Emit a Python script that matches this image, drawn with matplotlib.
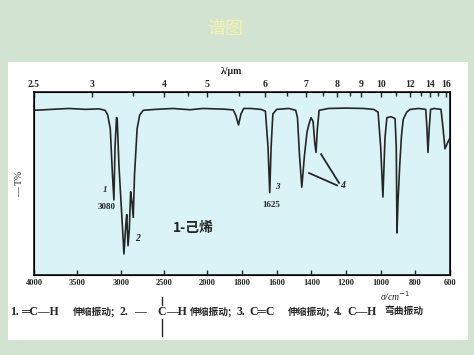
import numpy as np
import matplotlib
matplotlib.use('Agg')
import matplotlib.pyplot as plt
from matplotlib.patches import Rectangle
from matplotlib.lines import Line2D

# spectrum of 1-hexene (wavenumber cm-1, T%)
wavenumber = [4000, 3800, 3600, 3400, 3250, 3180, 3150, 3120, 3095, 3078, 3065, 3048,
              3040, 3020, 2990, 2962, 2940, 2930, 2915, 2900, 2885, 2870, 2855, 2840,
              2810, 2780, 2740, 2600, 2400, 2200, 2050, 1900, 1850, 1835, 1820, 1806,
              1790, 1750, 1690, 1665, 1650, 1640, 1632, 1622, 1600, 1530, 1490, 1480,
              1468, 1455, 1440, 1425, 1415, 1402, 1390, 1380, 1373, 1365, 1355, 1300,
              1200, 1100, 1040, 1015, 1000, 987, 975, 964, 940, 917, 910, 906, 900,
              890, 880, 870, 850, 830, 780, 740, 733, 727, 720, 712, 690, 652, 640,
              629, 615, 600]
transmittance = [90, 90.5, 91, 90.5, 90.8, 90, 87.5, 80, 55, 41, 70, 86,
                 85.5, 60, 35, 11.5, 28, 33, 16, 25, 45.5, 40, 31.5, 55,
                 80, 87.5, 90, 90.5, 91, 90.3, 91, 90.6, 90.2, 87, 82, 88,
                 91, 91, 90.5, 89.5, 70, 45, 70, 88, 90.5, 91, 90, 86,
                 65, 48, 65, 78, 82, 86, 84, 72, 67, 80, 90, 91,
                 91.2, 91, 90.5, 89, 70, 42.6, 75, 86, 86.5, 85.5, 70, 23, 40,
                 60, 76, 85, 89, 90.5, 91, 90.5, 80, 67, 80, 90.5, 91, 90.5, 80,
                 69, 72, 75]

sigma_ticks = [4000, 3500, 3000, 2500, 2000, 1800, 1600, 1400, 1200, 1000, 800, 600]
lambda_ticks = [2.5, 3, 4, 5, 6, 7, 8, 9, 10, 12, 14, 16]
lambda_minor = [3.5, 4.5, 5.5, 6.5, 7.5, 8.5, 11, 13, 15]

# caption pieces and where each one starts (pixels)
caption = [('1.', 10), ('═C—H', 21), ('伸缩振动;', 73), ('2.', 119), ('—', 134), ('C', 157),
           ('—H', 166), ('伸缩振动;', 190), ('3.', 237), ('C═C', 249), ('伸缩振动;', 288),
           ('4.', 334), ('C—H', 347), ('弯曲振动', 384)]

serif = ['Liberation Serif', 'Noto Sans CJK SC']
cjk = ['Noto Sans CJK SC', 'Liberation Serif']
ink = '#262626'


def fwd(w):
    w = np.asarray(w, float)
    return np.where(w >= 2000, w, 2 * w - 2000)


def inv(u):
    u = np.asarray(u, float)
    return np.where(u >= 2000, u, (u + 2000) / 2)


def px(x, y):
    return x / 474, 1 - y / 355


fig = plt.figure(figsize=(4.74, 3.55), dpi=100)
fig.patch.set_facecolor('#d3e3d1')
fig.patches.append(Rectangle(px(8, 340), 460 / 474, 278 / 355, transform=fig.transFigure,
                             facecolor='white', edgecolor='none', zorder=-10))
fig.text(*px(225, 29), '谱图', family=cjk, fontsize=13, color='#f3f3a8', ha='center', va='center')

ax = fig.add_axes([34 / 474, 1 - 275 / 355, 416 / 474, 183 / 355])
ax.set_facecolor('#daf3f6')
ax.set_xscale('function', functions=(fwd, inv))
ax.set_xlim(4000, 600)
ax.set_ylim(0, 100)
ax.plot(wavenumber, transmittance, color=ink, lw=1.2)
for s in ax.spines.values():
    s.set_color(ink)
    s.set_linewidth(1.3)
ax.set_yticks([])
ax.set_xticks(sigma_ticks)
ax.set_xticklabels([str(t) for t in sigma_ticks], family=serif, fontsize=6, fontweight='bold', color=ink)
ax.tick_params(axis='x', direction='in', length=3.5, width=1, pad=3, colors=ink)

top = ax.twiny()
top.set_xscale('function', functions=(fwd, inv))
top.set_xlim(4000, 600)
top.set_xticks([10000 / l for l in lambda_ticks])
top.set_xticklabels([str(l) for l in lambda_ticks], family=serif, fontsize=7, fontweight='bold', color=ink)
top.set_xticks([10000 / l for l in lambda_minor], minor=True)
top.tick_params(axis='x', which='both', direction='in', length=3.5, width=1, pad=2.5, colors=ink)
top.tick_params(axis='x', which='minor', length=3)

# peak labels
ax.text(3175, 46.5, '1', family=serif, fontsize=6.5, style='italic', fontweight='bold', ha='center', va='center', color=ink)
ax.text(3158, 37, '3080', family=serif, fontsize=6.5, fontweight='bold', ha='center', va='center', color=ink)
ax.text(2800, 20, '2', family=serif, fontsize=7, style='italic', fontweight='bold', ha='center', va='center', color=ink)
ax.text(2165, 25.7, '1-己烯', family=cjk, fontsize=10, fontweight='bold', ha='center', va='center', color=ink)
ax.text(1598, 48, '3', family=serif, fontsize=6.5, style='italic', fontweight='bold', ha='center', va='center', color=ink)
ax.text(1633, 38, '1625', family=serif, fontsize=6.5, fontweight='bold', ha='center', va='center', color=ink)
ax.text(1222, 49, '4', family=serif, fontsize=7, style='italic', fontweight='bold', ha='center', va='center', color=ink)
ax.plot([1344, 1240], [66, 50.3], color=ink, lw=1.3)
ax.plot([1413, 1252], [55.7, 49], color=ink, lw=1.3)

ax.set_ylabel('— T%', family=serif, fontsize=7, color=ink, labelpad=7)
fig.text(*px(232, 72), 'λ/μm', family=serif, fontsize=7, fontweight='bold', ha='center', va='center', color=ink)
fig.text(*px(395, 296), 'σ/cm$^{-1}$', family=serif, fontsize=7, style='italic', ha='center', va='center', color=ink)

# caption
cap_y = 312
for txt, x in caption:
    cj = any(ord(c) > 0x3000 for c in txt)
    fig.text(*px(x, cap_y), txt, family=cjk if cj else serif, fontsize=7 if cj else 8.5,
             fontweight='bold', ha='left', va='center', color=ink)
for y0, y1 in [(297, 305), (319, 336)]:
    fig.lines.append(Line2D([161.5 / 474] * 2, [1 - y0 / 355, 1 - y1 / 355], transform=fig.transFigure,
                            color=ink, lw=1))

fig.savefig('out.png', dpi=100, facecolor=fig.get_facecolor())
